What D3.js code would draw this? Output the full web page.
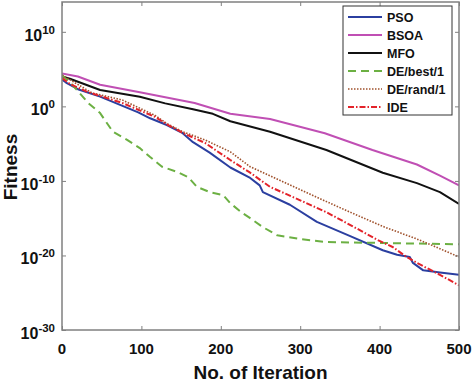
<!DOCTYPE html>
<html>
<head>
<meta charset="utf-8">
<script src="https://cdn.jsdelivr.net/npm/d3@7"></script>
<style>
  body { margin: 0; background: #fff; }
  text { font-family: "Liberation Sans", Arial, sans-serif; font-weight: bold; fill: #111; }
</style>
</head>
<body>
<div id="chart"></div>
<script>
// data: [iteration, log10(fitness)]
let pso = [
  [0, 3.6], [5, 3.2], [20, 2.3], [48, 1.3], [96, -0.8], [111, -1.6], [132, -2.5],
  [152, -3.6], [165, -4.8], [186, -6.2], [212, -8.2], [237, -9.6], [249, -10.6],
  [253, -11.5], [287, -13.2], [321, -15.5], [363, -17.4], [404, -19.3], [422, -19.9],
  [438, -20.2], [442, -21.0], [455, -22.0], [476, -22.3], [500, -22.6]
];
let bsoa = [
  [0, 4.4], [20, 4.0], [48, 2.9], [98, 1.9], [167, 0.45], [212, -1.0], [262, -1.7],
  [331, -3.6], [391, -5.85], [447, -7.8], [476, -9.3], [500, -10.6]
];
let mfo = [
  [0, 4.0], [10, 3.7], [48, 2.2], [98, 1.3], [130, 0.4], [165, -0.4], [190, -1.0],
  [212, -2.0], [262, -3.4], [333, -5.85], [404, -8.9], [447, -10.3], [476, -11.5], [500, -13.1]
];
let deBest = [
  [0, 4.2], [13, 2.9], [33, 0.45], [48, -0.9], [64, -3.4], [82, -4.5], [98, -5.6],
  [111, -6.8], [126, -8.1], [145, -8.8], [159, -9.5], [170, -10.8], [186, -11.5],
  [203, -11.9], [212, -13.0], [227, -14.3], [237, -15.0], [253, -16.2], [271, -17.3],
  [300, -17.8], [333, -18.2], [500, -18.5]
];
let deRand = [
  [0, 4.2], [38, 1.8], [76, 0.85], [117, -1.2], [132, -2.3], [152, -3.4], [180, -4.5],
  [212, -6.1], [237, -8.1], [278, -10.1], [321, -12.2], [363, -14.2], [404, -16.1],
  [447, -17.8], [463, -18.5], [500, -20.2]
];
let ide = [
  [0, 3.8], [10, 3.0], [33, 1.9], [76, 0.45], [117, -1.4], [132, -2.4], [151, -3.5],
  [180, -4.9], [212, -7.2], [237, -8.9], [262, -10.8], [300, -12.6], [333, -14.2],
  [375, -16.6], [397, -17.9], [417, -18.9], [434, -20.2], [447, -21.0], [476, -22.6], [500, -24.0]
];

let seriesNames = ["PSO", "BSOA", "MFO", "DE/best/1", "DE/rand/1", "IDE"];
let iterTicks = [0, 100, 200, 300, 400, 500];
let fitnessExpTicks = [-30, -20, -10, 0, 10];

let styles = [
  {color: "#2b3fa0", dash: null, width: 2},
  {color: "#c04fb4", dash: null, width: 2},
  {color: "#111111", dash: null, width: 2},
  {color: "#6cb043", dash: "8,5", width: 2},
  {color: "#a0522d", dash: "1.5,1.5", width: 1.6},
  {color: "#e3232a", dash: "6,2,1.5,2", width: 2}
];
let allSeries = [pso, bsoa, mfo, deBest, deRand, ide];

let margin = {top: 2, right: 15, bottom: 52, left: 62};
let exteriorWidth = 474, exteriorHeight = 382;
let interiorWidth = exteriorWidth - margin.left - margin.right,
    interiorHeight = exteriorHeight - margin.top - margin.bottom;

let svg = d3.select("#chart").append("svg")
    .attr("width", exteriorWidth)
    .attr("height", exteriorHeight);

let g = svg.append("g")
    .attr("transform", translate(margin.left, margin.top));

let x = d3.scaleLinear().domain([0, 500]).range([0, interiorWidth]);
let y = d3.scaleLog().domain([1e-30, 1e14]).range([interiorHeight, 0]);

g.append("clipPath").attr("id", "clip")
  .append("rect").attr("width", interiorWidth).attr("height", interiorHeight);

let line = d3.line()
    .x(function(d) { return x(d[0]); })
    .y(function(d) { return y(Math.pow(10, d[1])); });

g.append("g").attr("clip-path", "url(#clip)")
  .selectAll("path")
    .data(allSeries)
  .enter().append("path")
    .attr("d", line)
    .attr("fill", "none")
    .attr("stroke", function(d, i) { return styles[i].color; })
    .attr("stroke-width", function(d, i) { return styles[i].width; })
    .attr("stroke-dasharray", function(d, i) { return styles[i].dash; })
    .attr("stroke-linejoin", "round");

// axes: ticks inward on all four sides
let yTickVals = fitnessExpTicks.map(function(e) { return Math.pow(10, e); });
let axisColor = "#808080";

function styleAxis(sel) {
  sel.select(".domain").remove();
  sel.selectAll(".tick line").attr("stroke", axisColor).attr("stroke-width", 1);
  sel.selectAll(".tick text").remove();
}

g.append("g").attr("transform", translate(0, interiorHeight))
  .call(d3.axisBottom(x).tickValues(iterTicks).tickSize(-4)).call(styleAxis);
g.append("g")
  .call(d3.axisTop(x).tickValues(iterTicks).tickSize(-4)).call(styleAxis);
g.append("g")
  .call(d3.axisLeft(y).tickValues(yTickVals).tickSize(-4)).call(styleAxis);
g.append("g").attr("transform", translate(interiorWidth, 0))
  .call(d3.axisRight(y).tickValues(yTickVals).tickSize(-4)).call(styleAxis);

g.append("rect")
    .attr("width", interiorWidth)
    .attr("height", interiorHeight)
    .attr("fill", "none")
    .attr("stroke", axisColor)
    .attr("stroke-width", 1.5);

// tick labels
g.selectAll(".xlabel")
    .data(iterTicks)
  .enter().append("text")
    .attr("x", function(d) { return x(d); })
    .attr("y", interiorHeight + 24)
    .attr("text-anchor", "middle")
    .style("font-size", "15px")
    .text(function(d) { return d; });

let ylab = g.selectAll(".ylabel")
    .data(fitnessExpTicks)
  .enter().append("text")
    .attr("x", -7)
    .attr("y", function(d) { return y(Math.pow(10, d)) + 9; })
    .attr("text-anchor", "end")
    .style("font-size", "16px");
ylab.append("tspan").text("10");
ylab.append("tspan")
    .attr("dy", -7)
    .style("font-size", "11.5px")
    .text(function(d) { return d; });

// axis titles
svg.append("text")
    .attr("transform", "translate(17," + (margin.top + 165) + ") rotate(-90)")
    .attr("text-anchor", "middle")
    .style("font-size", "19px")
    .text("Fitness");

svg.append("text")
    .attr("x", margin.left + interiorWidth / 2)
    .attr("y", 379)
    .attr("text-anchor", "middle")
    .style("font-size", "19px")
    .text("No. of Iteration");

// legend
let legend = svg.append("g").attr("transform", translate(343, 6));
legend.append("rect")
    .attr("width", 109)
    .attr("height", 109)
    .attr("fill", "#fff")
    .attr("stroke", "#333")
    .attr("stroke-width", 1);

let items = legend.selectAll(".item")
    .data(seriesNames)
  .enter().append("g")
    .attr("transform", function(d, i) { return translate(0, 11 + i * 18); });
items.append("line")
    .attr("x1", 5).attr("x2", 39)
    .attr("stroke", function(d, i) { return styles[i].color; })
    .attr("stroke-width", function(d, i) { return styles[i].width; })
    .attr("stroke-dasharray", function(d, i) { return styles[i].dash; });
items.append("text")
    .attr("x", 44)
    .attr("y", 4.5)
    .style("font-size", "12.5px")
    .text(function(d) { return d; });

function translate(x, y=0) {
  return "translate({x}, {y})".replace("{x}", x).replace("{y}", y);
}
</script>
</body>
</html>
